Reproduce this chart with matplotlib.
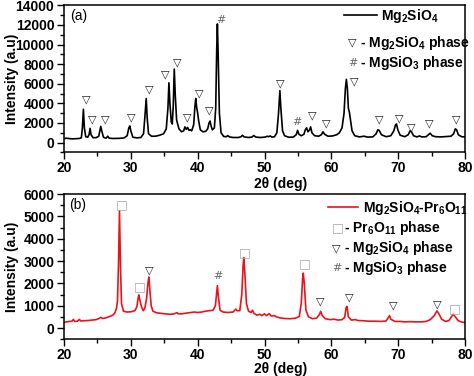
import matplotlib
matplotlib.use("Agg")
import matplotlib.pyplot as plt
from matplotlib.lines import Line2D
from matplotlib.ticker import MultipleLocator

plt.rcParams['font.family'] = ['Liberation Sans', 'DejaVu Sans']
plt.rcParams['font.weight'] = 'bold'
plt.rcParams['mathtext.fontset'] = 'custom'
plt.rcParams['mathtext.rm'] = 'Liberation Sans:bold'
plt.rcParams['mathtext.it'] = 'Liberation Sans:bold'
plt.rcParams['mathtext.bf'] = 'Liberation Sans:bold'
plt.rcParams['mathtext.default'] = 'rm'

# ---------------- data: panel (a) Mg2SiO4 ----------------
angle_a = [20.0, 20.3, 20.6, 20.9, 21.3, 21.8, 22.3, 22.6, 22.75, 22.9,
           23.05, 23.25, 23.55, 23.75, 23.9, 24.05, 24.35, 24.8, 25.2, 25.4,
           25.5, 25.65, 25.9, 26.3, 26.55, 26.75, 27.3, 28.2, 29.0, 29.45,
           29.7, 29.85, 30.0, 30.3, 30.9, 31.5, 31.9, 32.1, 32.3, 32.45,
           32.65, 33.1, 33.7, 34.3, 34.9, 35.3, 35.55, 35.7, 35.85, 36.05,
           36.2, 36.35, 36.5, 36.65, 36.85, 37.2, 37.6, 37.9, 38.1, 38.3,
           38.5, 38.7, 38.9, 39.1, 39.4, 39.6, 39.72, 39.85, 40.0, 40.15,
           40.4, 40.8, 41.2, 41.5, 41.7, 41.85, 42.0, 42.2, 42.5, 42.7,
           42.85, 42.95, 43.05, 43.25, 43.5, 43.9, 44.3, 44.5, 44.75, 45.3,
           46.1, 46.5, 46.7, 46.95, 47.6, 48.1, 48.4, 48.7, 49.4, 50.1,
           50.4, 50.6, 50.85, 51.1, 51.5, 51.85, 52.1, 52.3, 52.45, 52.7,
           53.0, 53.6, 54.3, 54.75, 54.95, 55.15, 55.5, 55.9, 56.1, 56.3,
           56.5, 56.75, 56.9, 57.1, 57.5, 58.1, 58.5, 58.75, 59.0, 59.5,
           60.2, 60.8, 61.2, 61.6, 61.9, 62.1, 62.25, 62.4, 62.55, 62.7,
           62.85, 63.1, 63.5, 64.2, 64.9, 65.4, 66.2, 66.7, 66.95, 67.15,
           67.5, 68.2, 68.9, 69.35, 69.6, 69.75, 69.95, 70.3, 71.0, 71.5,
           71.8, 72.0, 72.3, 72.8, 73.2, 73.5, 74.2, 74.6, 74.8, 75.1,
           75.6, 76.4, 77.2, 77.9, 78.3, 78.55, 78.75, 79.0, 79.5, 80.0]
intensity_a = [380, 450, 420, 400, 380, 400, 420, 500, 1500, 3400,
               1500, 600, 550, 800, 1450, 800, 500, 500, 650, 1300,
               1650, 1200, 550, 450, 650, 450, 420, 430, 480, 700,
               1500, 1700, 1200, 550, 480, 520, 900, 2600, 4500, 2500,
               900, 650, 650, 750, 900, 1400, 3500, 6100, 4000, 2100,
               1900, 3800, 7500, 4800, 2300, 1400, 1100, 1200, 1600, 1350,
               1550, 1250, 1300, 1200, 1800, 3800, 4500, 3600, 3000, 2200,
               1300, 1100, 1150, 1400, 2000, 2200, 1700, 1300, 1500, 3500,
               9500, 12100, 9500, 3000, 1000, 620, 600, 720, 580, 520,
               520, 600, 750, 580, 520, 560, 720, 560, 520, 560,
               650, 600, 680, 560, 600, 1000, 3000, 5300, 3500, 1200,
               700, 550, 560, 800, 1250, 850, 700, 850, 1300, 1500,
               1100, 1300, 1600, 1000, 700, 650, 800, 1100, 850, 650,
               680, 800, 1000, 1500, 3000, 5500, 6450, 5500, 3500, 3100,
               2400, 1200, 700, 580, 650, 560, 580, 900, 1300, 1250,
               800, 600, 700, 1200, 1800, 1900, 1300, 750, 600, 800,
               1200, 1100, 700, 580, 680, 580, 600, 850, 950, 700,
               600, 580, 620, 650, 900, 1400, 1300, 800, 600, 580]

# phase markers, panel (a)
tri_a_x = [23.3, 24.2, 26.2, 30.1, 32.7, 35.1, 36.9, 38.5, 40.3, 41.8,
           52.3, 57.1, 59.2, 63.4, 67.2, 70.2, 71.9, 74.6, 78.7]
tri_a_y = [4420, 2340, 2340, 2610, 5440, 6970, 8220, 2550, 5000, 3300,
           6020, 2790, 2000, 6250, 2380, 2450, 1590, 1940, 2350]
hash_a_x = [43.5, 54.8]
hash_a_y = [12550, 2100]

# ---------------- data: panel (b) Mg2SiO4-Pr6O11 ----------------
angle_b = [20.0, 20.4, 20.8, 21.2, 21.4, 21.6, 22.0, 22.3, 22.5, 23.0,
           23.6, 24.2, 24.8, 25.3, 25.5, 25.8, 26.3, 26.8, 27.3, 27.6,
           27.85, 28.0, 28.15, 28.3, 28.45, 28.6, 28.9, 29.4, 30.0, 30.6,
           30.9, 31.1, 31.2, 31.35, 31.6, 31.85, 32.1, 32.35, 32.55, 32.7,
           32.85, 33.05, 33.3, 33.8, 34.5, 35.2, 35.8, 36.4, 36.9, 37.1,
           37.6, 38.3, 38.9, 39.5, 40.0, 40.6, 41.2, 41.8, 42.3, 42.65,
           42.85, 42.95, 43.1, 43.35, 43.8, 44.5, 45.3, 45.7, 45.9, 46.3,
           46.6, 46.8, 46.9, 47.05, 47.3, 47.6, 48.0, 48.2, 48.45, 48.9,
           49.3, 49.6, 50.0, 50.3, 50.7, 51.0, 51.5, 51.8, 52.3, 53.0,
           53.8, 54.6, 55.2, 55.5, 55.7, 55.8, 55.95, 56.2, 56.6, 57.2,
           57.8, 58.2, 58.4, 58.65, 59.1, 59.8, 60.4, 61.0, 61.6, 62.0,
           62.2, 62.35, 62.55, 63.0, 63.6, 64.0, 64.8, 65.6, 66.5, 67.4,
           68.2, 68.55, 68.7, 68.9, 69.5, 70.3, 71.0, 71.8, 72.6, 73.4,
           74.2, 74.8, 75.4, 75.8, 76.1, 76.5, 77.1, 77.6, 78.0, 78.25,
           78.6, 79.0, 79.5, 80.0]
intensity_b = [260, 280, 300, 310, 390, 300, 310, 390, 320, 330,
               340, 360, 380, 440, 480, 430, 460, 520, 580, 680,
               880, 1200, 2800, 5250, 2800, 1100, 760, 720, 730, 780,
               950, 1350, 1490, 1250, 950, 780, 900, 1300, 2000, 2290,
               1700, 1000, 760, 690, 660, 640, 620, 630, 690, 640,
               640, 670, 700, 720, 700, 720, 760, 780, 800, 1000,
               1600, 1900, 1400, 800, 720, 700, 720, 850, 780, 780,
               1500, 2800, 3150, 2500, 1100, 760, 700, 800, 650, 580,
               620, 560, 640, 560, 650, 540, 560, 500, 460, 430,
               420, 440, 520, 1100, 2200, 2460, 2000, 800, 500, 420,
               450, 600, 750, 560, 420, 380, 400, 360, 380, 480,
               900, 970, 500, 360, 380, 340, 330, 310, 310, 300,
               320, 480, 560, 400, 300, 300, 280, 290, 280, 280,
               300, 380, 560, 770, 640, 400, 300, 340, 520, 620,
               480, 330, 270, 250]

# phase markers, panel (b)
sq_b_x = [28.7, 31.3, 47.1, 56.0, 78.4]
sq_b_y = [5500, 1860, 3380, 2870, 890]
tri_b_x = [32.8, 58.3, 62.7, 69.2, 75.9]
tri_b_y = [2600, 1190, 1380, 1010, 1070]
hash_b_x = [42.95]
hash_b_y = [2350]

x_ticks = [20, 30, 40, 50, 60, 70, 80]
y_ticks_a = [0, 2000, 4000, 6000, 8000, 10000, 12000, 14000]
y_ticks_b = [0, 1000, 2000, 3000, 4000, 5000, 6000]

TRI = '\u25BD'
SQ = '\u25A1'
tri_col = '#222222'
hash_col = '#666666'
sq_col = '#aaaaaa'
FS = 10

fig = plt.figure(figsize=(4.74, 3.76), dpi=100)
W, H = 474, 376
ax1 = fig.add_axes([64 / W, 1 - 152.4 / H, 401 / W, 147.1 / H])
ax2 = fig.add_axes([64 / W, 1 - 339.3 / H, 401 / W, 145.3 / H])

ax1.plot(angle_a, intensity_a, color='black', lw=1.2)
ax2.plot(angle_b, intensity_b, color='#e8141c', lw=1.2)

for xv, yv in zip(tri_a_x, tri_a_y):
    ax1.text(xv, yv, TRI, ha='center', va='center', fontsize=8, color=tri_col,
             family=['DejaVu Sans'], fontweight='normal')
for xv, yv in zip(hash_a_x, hash_a_y):
    ax1.text(xv, yv, '#', ha='center', va='center', fontsize=8, color=hash_col,
             family=['DejaVu Sans'], fontweight='normal')
for xv, yv in zip(sq_b_x, sq_b_y):
    ax2.text(xv, yv, SQ, ha='center', va='center', fontsize=9, color=sq_col,
             family=['DejaVu Sans'], fontweight='normal')
for xv, yv in zip(tri_b_x, tri_b_y):
    ax2.text(xv, yv, TRI, ha='center', va='center', fontsize=8, color=tri_col,
             family=['DejaVu Sans'], fontweight='normal')
for xv, yv in zip(hash_b_x, hash_b_y):
    ax2.text(xv, yv, '#', ha='center', va='center', fontsize=8, color=hash_col,
             family=['DejaVu Sans'], fontweight='normal')

for ax, yt, ylim, minor in ((ax1, y_ticks_a, (-1000, 14000), 1000),
                            (ax2, y_ticks_b, (-500, 6000), 500)):
    ax.set_xlim(20, 80)
    ax.set_ylim(*ylim)
    ax.set_xticks(x_ticks)
    ax.set_yticks(yt)
    ax.xaxis.set_minor_locator(MultipleLocator(5))
    ax.yaxis.set_minor_locator(MultipleLocator(minor))
    ax.tick_params(which='major', direction='out', length=5, width=1,
                   labelsize=FS, pad=2)
    ax.tick_params(axis='x', which='major', pad=1.5)
    ax.tick_params(which='minor', direction='out', length=3, width=1)
    for lab in ax.get_xticklabels() + ax.get_yticklabels():
        lab.set_fontweight('bold')
    for sp in ax.spines.values():
        sp.set_linewidth(1.1)
    ax.set_xlabel('2\u03b8 (deg)', fontsize=FS, fontweight='bold')
    ax.set_ylabel('Intensity (a.u)', fontsize=FS, fontweight='bold')
    ax.yaxis.set_label_coords(-0.112, 0.5)

ax1.xaxis.set_label_coords(0.54, -0.165)
ax2.xaxis.set_label_coords(0.54, -0.158)

ax1.text(0.015, 0.925, '(a)', transform=ax1.transAxes, fontsize=FS,
         fontweight='normal', ha='left', va='center')
ax2.text(0.012, 0.924, '(b)', transform=ax2.transAxes, fontsize=FS,
         fontweight='normal', ha='left', va='center')

# legends
h1 = Line2D([], [], color='black', lw=1.2)
leg1 = ax1.legend([h1], [r'Mg$_2$SiO$_4$'], loc='center left',
                  bbox_to_anchor=(0.698, 0.927), frameon=False, fontsize=FS,
                  handlelength=2.4, handletextpad=0.3, borderpad=0,
                  borderaxespad=0)
for t in leg1.get_texts():
    t.set_fontweight('bold')
lx1 = 0.708
ax1.text(lx1, 0.746, TRI, transform=ax1.transAxes, fontsize=8, color=tri_col,
         family=['DejaVu Sans'], fontweight='normal', ha='left', va='center')
ax1.text(lx1 + 0.03, 0.746, r'- Mg$_2$SiO$_4$ phase', transform=ax1.transAxes,
         fontsize=FS, fontweight='bold', ha='left', va='center')
ax1.text(lx1, 0.607, '#', transform=ax1.transAxes, fontsize=8, color=hash_col,
         family=['DejaVu Sans'], fontweight='normal', ha='left', va='center')
ax1.text(lx1 + 0.03, 0.607, r'- MgSiO$_3$ phase', transform=ax1.transAxes,
         fontsize=FS, fontweight='bold', ha='left', va='center')

h2 = Line2D([], [], color='#e8141c', lw=1.2)
leg2 = ax2.legend([h2], [r'Mg$_2$SiO$_4$-Pr$_6$O$_{11}$'], loc='center left',
                  bbox_to_anchor=(0.658, 0.904), frameon=False, fontsize=FS,
                  handlelength=2.2, handletextpad=0.3, borderpad=0,
                  borderaxespad=0)
for t in leg2.get_texts():
    t.set_fontweight('bold')
lx2 = 0.668
rows_b = [(0.766, SQ, sq_col, 9, r'- Pr$_6$O$_{11}$ phase'),
          (0.628, TRI, tri_col, 8, r'- Mg$_2$SiO$_4$ phase'),
          (0.491, '#', hash_col, 8, r'- MgSiO$_3$ phase')]
for yy, sym, col, fs, lab in rows_b:
    ax2.text(lx2, yy, sym, transform=ax2.transAxes, fontsize=fs, color=col,
             family=['DejaVu Sans'], fontweight='normal', ha='left', va='center')
    ax2.text(lx2 + 0.03, yy, lab, transform=ax2.transAxes, fontsize=FS,
             fontweight='bold', ha='left', va='center')

fig.savefig('out.png', dpi=100)
